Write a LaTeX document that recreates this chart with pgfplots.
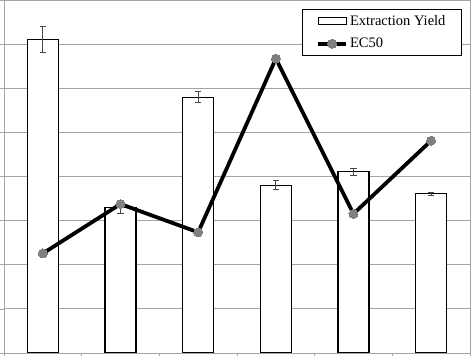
\documentclass[border=0pt]{standalone}
\usepackage{pgfplots}
\pgfplotsset{compat=1.18}
\usepackage{fontspec}
\setmainfont{Liberation Serif}
\definecolor{gridgray}{RGB}{165,165,165}
\definecolor{markgray}{RGB}{128,128,128}
\definecolor{errgray}{RGB}{70,70,70}
\pgfplotsset{
  barleg/.style={legend image code/.code={\draw[draw=black, fill=white, line width=1.1pt] (0pt,-3.5pt) rectangle (28pt,3.5pt);}},
  lineleg/.style={legend image code/.code={\draw[##1, mark repeat=2, mark phase=2] plot coordinates {(0pt,0pt) (14pt,0pt) (28pt,0pt)};}},
}
\begin{document}
\begin{tikzpicture}
\begin{axis}[
  at={(0pt,0pt)}, anchor=south west,
  scale only axis,
  width=466pt, height=352.5pt,
  xmin=-0.5, xmax=5.5,
  ymin=0, ymax=8,
  xtick={-0.5,0.5,1.5,2.5,3.5,4.5,5.5},
  ytick={0,1,2,3,4,5,6,7,8},
  xticklabels={}, yticklabels={},
  xtick pos=bottom, ytick pos=left,
  tick align=outside,
  major tick length=4pt,
  tick style={gridgray, line width=0.8pt},
  ymajorgrids,
  grid style={gridgray, line width=0.9pt},
  axis line style={gridgray, line width=0.9pt},
  legend style={at={(rel axis cs:0.983,0.976)}, anchor=north east,
    draw=black, line width=1.2pt,
    font=\fontsize{14.5}{16}\selectfont,
    inner xsep=14pt, inner ysep=4pt, row sep=7pt,
    cells={anchor=west}, nodes={inner xsep=2pt}},
  legend cell align=left,
]
\addplot[ybar, bar width=31pt, bar shift=0pt, draw=black, fill=white, line width=1.1pt, barleg,
  error bars/.cd, y dir=both, y explicit,
  error bar style={errgray, line width=0.9pt},
  error mark options={errgray, line width=0.9pt, mark size=3pt, rotate=90},
  ]
  coordinates {
  (0,7.11) +- (0,0.295)
  (1,3.30) +- (0,0.136)
  (2,5.80) +- (0,0.125)
  (3,3.81) +- (0,0.107)
  (4,4.11) +- (0,0.080)
  (5,3.61) +- (0,0.027)
  };
\addplot[black, line width=3.8pt, mark=*, mark size=4.5pt,
  mark options={fill=markgray, draw=markgray, line width=0pt}, lineleg]
  coordinates {
  (0,2.26) (1,3.38) (2,2.74) (3,6.68) (4,3.16) (5,4.82)
  };
\legend{Extraction Yield, EC50}
\end{axis}
\pgfresetboundingbox
\path (-4pt,-3pt) rectangle (470pt,353pt);
\end{tikzpicture}
\end{document}
